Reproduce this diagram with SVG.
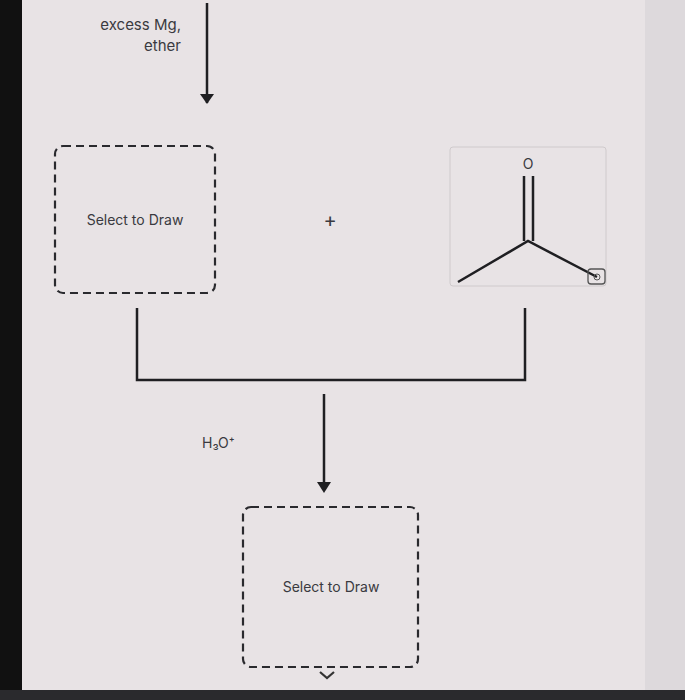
<svg xmlns="http://www.w3.org/2000/svg" width="685" height="700" viewBox="0 0 685 700">
<style>
.t{font-family:"Inter","Liberation Sans",sans-serif;fill:#3a3a40}
.box{fill:none;stroke:#2a2a2e;stroke-width:2.2;stroke-dasharray:8,5}
.ln{stroke:#1f1f22;stroke-width:2.5;fill:none}
</style>
<defs><marker id="ah" markerWidth="10" markerHeight="10" refX="5" refY="9" orient="auto" markerUnits="userSpaceOnUse" viewBox="0 0 10 10"><path d="M0,0 L10,0 L5,10 Z" fill="#1f1f22" transform="rotate(-90 5 5)"/></marker></defs>
<rect width="685" height="700" fill="#e6e1e3"/>
<rect x="0" y="0" width="22" height="700" fill="#111"/>
<rect x="645" y="0" width="40" height="700" fill="#ddd9dc"/>
<rect x="22" y="0" width="623" height="700" fill="#e8e3e5"/>
<rect x="0" y="690" width="685" height="10" fill="#2a2a2d"/>
<g id="reagent1"><text class="t" x="181" y="30" font-size="15" text-anchor="end">excess Mg,</text><text class="t" x="181" y="51" font-size="15" text-anchor="end">ether</text></g>
<g id="box1"><rect class="box" x="55" y="146" width="160" height="147" rx="8"/><text class="t" x="135" y="225" font-size="14" text-anchor="middle">Select to Draw</text></g>
<g id="plus"><text class="t" x="330" y="227" font-size="20" text-anchor="middle" fill="#222">+</text></g>
<g id="ketone"><rect x="450" y="147" width="156" height="139" rx="3" fill="none" stroke="#cfcacc" stroke-width="1"/>
<text class="t" x="528" y="169" font-size="14" text-anchor="middle">O</text>
<line class="ln" x1="524" y1="176" x2="524" y2="241" stroke-width="2"/><line class="ln" x1="533" y1="176" x2="533" y2="241" stroke-width="2"/>
<path class="ln" d="M458,282 L528,241 L597,277" stroke-width="2.5"/>
<rect x="588" y="269" width="17" height="15" rx="3" fill="none" stroke="#555" stroke-width="1.3"/><circle cx="597" cy="277" r="3" fill="none" stroke="#555" stroke-width="1"/></g>
<g id="H3O"><text class="t" x="202" y="448" font-size="14">H₃O⁺</text></g>
<g id="box2"><rect class="box" x="243" y="507" width="175" height="160" rx="8"/><text class="t" x="331" y="592" font-size="14" text-anchor="middle">Select to Draw</text></g>
<path d="M320,672 L327,678 L334,672" stroke="#333" stroke-width="2.2" fill="none"/>
<g id="connectors">
<line class="ln" x1="207" y1="3" x2="207" y2="103"/><path d="M200,94 L214,94 L207,104 Z" fill="#1f1f22"/>
<path class="ln" d="M137,308 L137,380 L525,380 L525,308"/>
<line class="ln" x1="324" y1="394" x2="324" y2="488"/><path d="M317,482 L331,482 L324,493 Z" fill="#1f1f22"/>
</g>
</svg>
